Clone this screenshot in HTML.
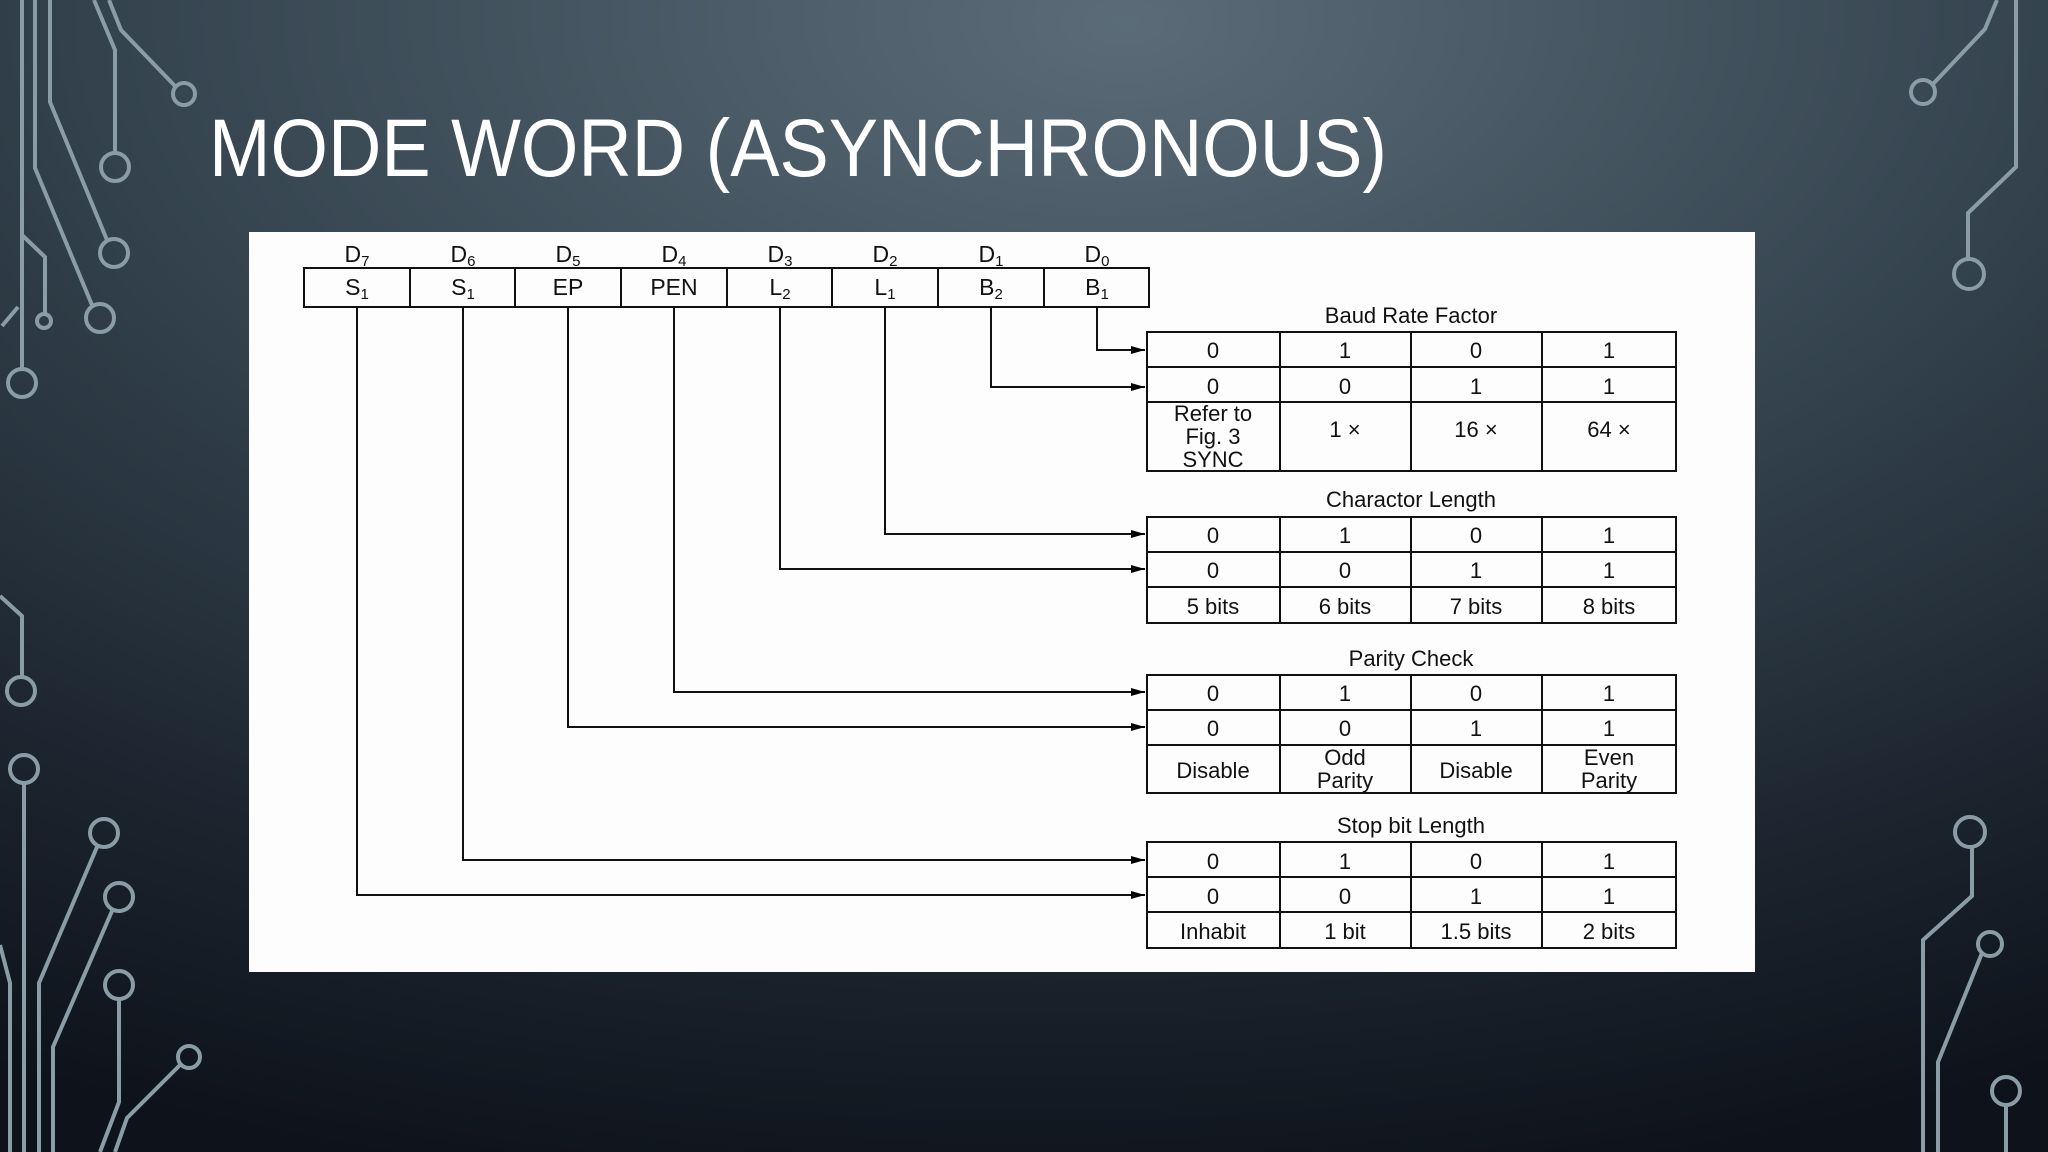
<!DOCTYPE html>
<html><head><meta charset="utf-8"><style>
html,body{margin:0;padding:0;width:2048px;height:1152px;overflow:hidden;background:#1e2832}
svg{display:block}
</style></head><body>
<svg width="2048" height="1152" viewBox="0 0 2048 1152" xmlns="http://www.w3.org/2000/svg">
<defs>
<radialGradient id="bg" cx="0.5" cy="0.0" r="1.05" fx="0.55" fy="0.02">
<stop offset="0" stop-color="#5b6c78"/>
<stop offset="0.45" stop-color="#34434e"/>
<stop offset="0.8" stop-color="#1a222c"/>
<stop offset="1" stop-color="#0e131b"/>
</radialGradient>
<marker id="ar" markerWidth="14" markerHeight="8" refX="14" refY="4" orient="auto" markerUnits="userSpaceOnUse">
<path d="M0,0 L14,4 L0,8 z" fill="#000"/></marker>
</defs>
<rect width="2048" height="1152" fill="url(#bg)"/>
<g fill="none" stroke="#8a9ca6" stroke-width="4">
<!-- top left -->
<path d="M109,0 L121,30 L176,87"/><circle cx="184" cy="94" r="11"/>
<path d="M94,0 L115,50 L115,153"/><circle cx="115" cy="167" r="14"/>
<path d="M50,0 L50,102 L107,240"/><circle cx="114" cy="253" r="14"/>
<path d="M35,0 L35,168 L92,305"/><circle cx="100" cy="318" r="14"/>
<path d="M22,0 L22,369"/><circle cx="22" cy="383" r="14"/>
<path d="M22,235 L45,257 L45,314"/><circle cx="44" cy="321" r="7"/>
<path d="M18,307 L2,326"/>
<!-- bottom left -->
<path d="M0,596 L22,616 L22,677"/><circle cx="21" cy="691" r="14"/>
<circle cx="24" cy="769" r="14"/><path d="M24,783 L24,1152"/>
<circle cx="104" cy="833" r="14"/><path d="M97,847 L39,983 L39,1152"/>
<circle cx="119" cy="897" r="14"/><path d="M112,911 L53,1047 L53,1152"/>
<circle cx="119" cy="985" r="14"/><path d="M119,999 L119,1102 L100,1152"/>
<circle cx="189" cy="1057" r="11"/><path d="M180,1065 L127,1118 L115,1152"/>
<path d="M0,945 L10,983 L10,1152"/>
<!-- top right -->
<path d="M1997,0 L1985,29 L1933,84"/><circle cx="1923" cy="92" r="12"/>
<path d="M2016,0 L2016,167 L1968,213 L1968,259"/><circle cx="1969" cy="274" r="15"/>
<!-- bottom right -->
<circle cx="1970" cy="832" r="15"/><path d="M1972,847 L1972,896 L1923,940 L1923,1152"/>
<circle cx="1990" cy="944" r="12"/><path d="M1982,953 L1938,1062 L1938,1152"/>
<circle cx="2006" cy="1091" r="14"/><path d="M2006,1105 L2006,1152"/>
</g>
<text x="209" y="176" font-family="Liberation Sans, sans-serif" font-size="82" fill="#fff" textLength="1178" lengthAdjust="spacingAndGlyphs">MODE WORD (ASYNCHRONOUS)</text>
<rect x="249" y="232" width="1506" height="740" fill="#fdfdfd"/>
<g font-family="Liberation Sans, sans-serif" font-size="22" fill="#111" text-anchor="middle">
<g font-size="23">
<text x="357" y="262">D<tspan font-size="15" dy="4">7</tspan></text>
<text x="463" y="262">D<tspan font-size="15" dy="4">6</tspan></text>
<text x="568" y="262">D<tspan font-size="15" dy="4">5</tspan></text>
<text x="674" y="262">D<tspan font-size="15" dy="4">4</tspan></text>
<text x="780" y="262">D<tspan font-size="15" dy="4">3</tspan></text>
<text x="885" y="262">D<tspan font-size="15" dy="4">2</tspan></text>
<text x="991" y="262">D<tspan font-size="15" dy="4">1</tspan></text>
<text x="1097" y="262">D<tspan font-size="15" dy="4">0</tspan></text>
<text x="357" y="295">S<tspan font-size="15" dy="4">1</tspan></text>
<text x="463" y="295">S<tspan font-size="15" dy="4">1</tspan></text>
<text x="568" y="295">EP</text>
<text x="674" y="295">PEN</text>
<text x="780" y="295">L<tspan font-size="15" dy="4">2</tspan></text>
<text x="885" y="295">L<tspan font-size="15" dy="4">1</tspan></text>
<text x="991" y="295">B<tspan font-size="15" dy="4">2</tspan></text>
<text x="1097" y="295">B<tspan font-size="15" dy="4">1</tspan></text>
</g>
</g>
<g fill="none" stroke="#111" stroke-width="2">
<rect x="304" y="268" width="845" height="39"/>
<path d="M410,268V307M515,268V307M621,268V307M727,268V307M832,268V307M938,268V307M1044,268V307"/>
<rect x="1147" y="332" width="529" height="139"/><path d="M1147,367H1676M1147,402H1676M1280,332V471M1411,332V471M1542,332V471"/>
<rect x="1147" y="517" width="529" height="106"/><path d="M1147,552H1676M1147,587H1676M1280,517V623M1411,517V623M1542,517V623"/>
<rect x="1147" y="675" width="529" height="118"/><path d="M1147,710H1676M1147,745H1676M1280,675V793M1411,675V793M1542,675V793"/>
<rect x="1147" y="842" width="529" height="106"/><path d="M1147,877H1676M1147,912H1676M1280,842V948M1411,842V948M1542,842V948"/>
</g>
<g fill="none" stroke="#111" stroke-width="2" marker-end="url(#ar)">
<path d="M1097,307V350H1145"/>
<path d="M991,307V387H1145"/>
<path d="M885,307V534H1145"/>
<path d="M780,307V569H1145"/>
<path d="M674,307V692H1145"/>
<path d="M568,307V727H1145"/>
<path d="M463,307V860H1145"/>
<path d="M357,307V895H1145"/>
</g>
<g font-family="Liberation Sans, sans-serif" font-size="22" fill="#111" text-anchor="middle">
<text x="1411" y="323">Baud Rate Factor</text>
<text x="1213" y="358">0</text><text x="1345" y="358">1</text><text x="1476" y="358">0</text><text x="1609" y="358">1</text>
<text x="1213" y="394">0</text><text x="1345" y="394">0</text><text x="1476" y="394">1</text><text x="1609" y="394">1</text>
<text x="1213" y="421">Refer to</text><text x="1213" y="444">Fig. 3</text><text x="1213" y="467">SYNC</text>
<text x="1345" y="437">1 ×</text><text x="1476" y="437">16 ×</text><text x="1609" y="437">64 ×</text>
<text x="1411" y="507">Charactor Length</text>
<text x="1213" y="543">0</text><text x="1345" y="543">1</text><text x="1476" y="543">0</text><text x="1609" y="543">1</text>
<text x="1213" y="578">0</text><text x="1345" y="578">0</text><text x="1476" y="578">1</text><text x="1609" y="578">1</text>
<text x="1213" y="614">5 bits</text><text x="1345" y="614">6 bits</text><text x="1476" y="614">7 bits</text><text x="1609" y="614">8 bits</text>
<text x="1411" y="666">Parity Check</text>
<text x="1213" y="701">0</text><text x="1345" y="701">1</text><text x="1476" y="701">0</text><text x="1609" y="701">1</text>
<text x="1213" y="736">0</text><text x="1345" y="736">0</text><text x="1476" y="736">1</text><text x="1609" y="736">1</text>
<text x="1213" y="778">Disable</text><text x="1476" y="778">Disable</text>
<text x="1345" y="765">Odd</text><text x="1345" y="788">Parity</text>
<text x="1609" y="765">Even</text><text x="1609" y="788">Parity</text>
<text x="1411" y="833">Stop bit Length</text>
<text x="1213" y="869">0</text><text x="1345" y="869">1</text><text x="1476" y="869">0</text><text x="1609" y="869">1</text>
<text x="1213" y="904">0</text><text x="1345" y="904">0</text><text x="1476" y="904">1</text><text x="1609" y="904">1</text>
<text x="1213" y="939">Inhabit</text><text x="1345" y="939">1 bit</text><text x="1476" y="939">1.5 bits</text><text x="1609" y="939">2 bits</text>
</g>
</svg>
</body></html>
